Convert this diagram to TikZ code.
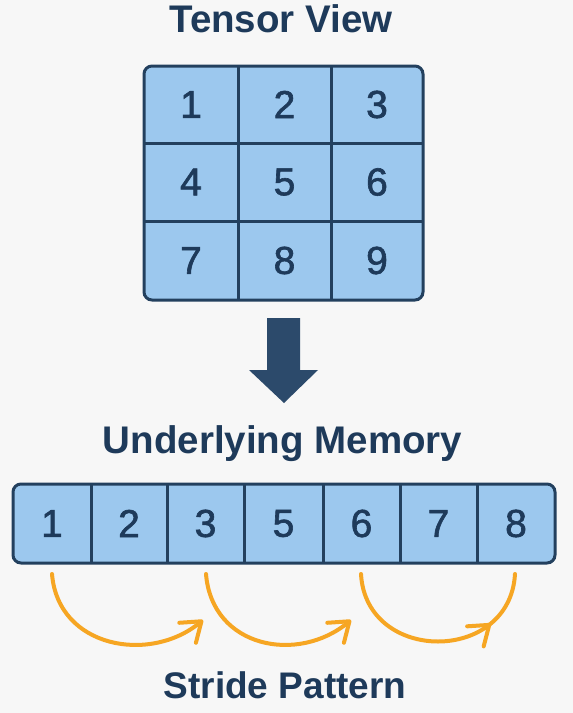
\documentclass[tikz,border=0pt]{standalone}
\usepackage{fontspec}
\setmainfont{Liberation Sans}
\newfontfamily\digitfont[BoldFont={Liberation Sans},BoldFeatures={FakeBold=1.6}]{Liberation Sans}
\usetikzlibrary{arrows.meta,decorations.markings,calc}
\definecolor{bgc}{HTML}{F7F7F7}
\definecolor{cellfill}{HTML}{9CC8EE}
\definecolor{navy}{HTML}{23405E}
\definecolor{txt}{HTML}{1E3A5A}
\definecolor{arrowc}{HTML}{2C4A6B}
\definecolor{orng}{HTML}{F6A623}
\tikzset{
  titletext/.style={anchor=base, text=txt, font=\fontsize{38.5}{41}\selectfont\bfseries, inner sep=0pt},
  digit/.style={text=txt, font=\fontsize{39}{42}\selectfont\digitfont\bfseries, inner sep=0pt},
  frame/.style={draw=navy, line width=3pt, rounded corners=8pt},
  divider/.style={draw=navy, line width=3pt},
  stride/.style={draw=orng, line width=4pt, line cap=round},
  barb/.tip={Straight Barb[length=18pt,width=26pt,line cap=round,line join=round]}
}
\begin{document}
\begin{tikzpicture}[x=1pt,y=-1pt]
\fill[bgc] (0,0) rectangle (573,713);
\useasboundingbox (0,0) rectangle (573,713);

% titles
\node[titletext] (t1) at (281,32) {Tensor View};
\node[titletext] (t2) at (282.5,453) {Underlying Memory};
\node[titletext, font=\fontsize{37}{40}\selectfont\bfseries] (t3) at (285,698) {Stride Pattern};

% tensor grid
\fill[cellfill, rounded corners=8pt] (144,66) rectangle (423,300);
\draw[divider] (238,66) -- (238,300);
\draw[divider] (331,66) -- (331,300);
\draw[divider] (144,143) -- (423,143);
\draw[divider] (144,221) -- (423,221);
\draw[frame] (144,66) rectangle (423,300);
\node[digit] (g1) at (191,104.5) {1};
\node[digit] (g2) at (284.5,104.5) {2};
\node[digit] (g3) at (377,104.5) {3};
\node[digit] (g4) at (191,182) {4};
\node[digit] (g5) at (284.5,182) {5};
\node[digit] (g6) at (377,182) {6};
\node[digit] (g7) at (191,260.5) {7};
\node[digit] (g8) at (284.5,260.5) {8};
\node[digit] (g9) at (377,260.5) {9};

% big arrow
\fill[arrowc] (267,318) -- (300,318) -- (300,370) -- (318,370) -- (284,403) -- (249,370) -- (267,370) -- cycle;

% memory row
\fill[cellfill, rounded corners=8pt] (13,484) rectangle (555,563);
\foreach \x in {91,167,244,323,400,477}{
  \draw[divider] (\x,484) -- (\x,563);
}
\draw[frame] (13,484) rectangle (555,563);
\node[digit] (m1) at (52,523.5) {1};
\node[digit] (m2) at (129,523.5) {2};
\node[digit] (m3) at (205.5,523.5) {3};
\node[digit] (m4) at (283.5,523.5) {5};
\node[digit] (m5) at (361.5,523.5) {6};
\node[digit] (m6) at (438.5,523.5) {7};
\node[digit] (m7) at (516,523.5) {8};

% stride arcs
\coordinate (s1) at (52,574);
\coordinate (e1) at (203,620);
\coordinate (s2) at (206,574);
\coordinate (e2) at (351,620);
\coordinate (s3) at (361,574);
\coordinate (e3) at (515,574);
\draw[stride, -{barb}] (s1) .. controls (58,648) and (150,664) .. (e1);
\draw[stride, -{barb}] (s2) .. controls (212,648) and (298,664) .. (e2);
\draw[stride, decoration={markings, mark=at position 0.75 with {\arrow{barb}}}, postaction=decorate]
  (s3) .. controls (366,664) and (510,664) .. (e3);
\end{tikzpicture}
\end{document}
